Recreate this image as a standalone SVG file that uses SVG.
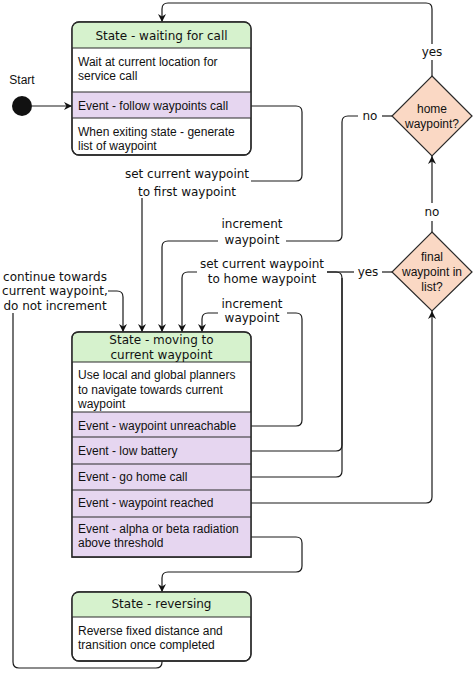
<svg xmlns="http://www.w3.org/2000/svg" width="474" height="673" viewBox="0 0 474 673">
<defs>
<marker id="arr" viewBox="0 0 10 10" refX="10" refY="5" markerWidth="8" markerHeight="8" markerUnits="userSpaceOnUse" orient="auto">
<path d="M0,0 L10,5 L0,10 L3,5 z" fill="#111"/>
</marker>
<style>
.box{fill:#fff;stroke:#2a2a2a;stroke-width:1.3}
.hdr{fill:#d6f2cd}
.evt{fill:#e6d6f0}
.div{stroke:#2a2a2a;stroke-width:1.2;fill:none}
.dia{fill:#fad8c4;stroke:#2a2a2a;stroke-width:1.2}
.c{fill:none;stroke:#1a1a1a;stroke-width:1.2}
.ca{fill:none;stroke:#1a1a1a;stroke-width:1.2;marker-end:url(#arr)}
.h{font-family:"DejaVu Sans",sans-serif;font-size:12px;fill:#111;text-anchor:middle}
.t{font-family:"Liberation Sans",Arial,sans-serif;font-size:12px;fill:#111}
.tm{font-family:"Liberation Sans",Arial,sans-serif;font-size:12px;fill:#111;text-anchor:middle}
.l{font-family:"DejaVu Sans",sans-serif;font-size:12px;fill:#111;text-anchor:middle}
</style>
</defs>
<g id="connectors">
<path class="ca" d="M32,106 H72"/>
<path class="c" d="M251,106 H296 Q302,106 302,112 V175 Q302,181 296,181 H251"/>
<path class="ca" d="M142,198 V332"/>
<path class="c" d="M432,76 V60"/>
<path class="ca" d="M432,44 V9 Q432,3 426,3 H168 Q162,3 162,9 V22"/>
<path class="c" d="M392,116 H382"/>
<path class="c" d="M358,116 H348 Q342,116 342,122 V235 Q342,241 336,241 H286"/>
<path class="ca" d="M218,241 H168 Q162,241 162,247 V332"/>
<path class="c" d="M392,272 H382"/>
<path class="c" d="M354,272 H327"/>
<path class="c" d="M251,451 H336 Q342,451 342,445 V278 Q342,272 336,272 H327"/>
<path class="c" d="M251,477 H336 Q342,477 342,471 V278"/>
<path class="ca" d="M197,272 H188 Q182,272 182,278 V332"/>
<path class="c" d="M251,426 H296 Q302,426 302,420 V319 Q302,313 296,313 H287"/>
<path class="ca" d="M218,313 H208 Q202,313 202,319 V332"/>
<path class="ca" d="M251,503 H426 Q432,503 432,497 V311"/>
<path class="c" d="M432,232 V221"/>
<path class="ca" d="M432,203 V156"/>
<path class="ca" d="M251,537 H296 Q302,537 302,543 V566 Q302,572 296,572 H168 Q162,572 162,578 V592"/>
<path class="c" d="M162,661 V662 Q162,668 156,668 H19 Q13,668 13,662 V313"/>
<path class="ca" d="M108,291 H117 Q123,291 123,297 V332"/>
<text class="l" x="187" y="178">set current waypoint</text>
<text class="l" x="187" y="196">to first waypoint</text>
<text class="l" x="252" y="228">increment</text>
<text class="l" x="252" y="244">waypoint</text>
<text class="l" x="262" y="268">set current waypoint</text>
<text class="l" x="262" y="283">to home waypoint</text>
<text class="l" x="252" y="308">increment</text>
<text class="l" x="252" y="322">waypoint</text>
<text class="l" x="55" y="281">continue towards</text>
<text class="l" x="55" y="295">current waypoint,</text>
<text class="l" x="55" y="310">do not increment</text>
<text class="l" x="432" y="56">yes</text>
<text class="l" x="370" y="120">no</text>
<text class="l" x="368" y="276">yes</text>
<text class="l" x="432" y="216">no</text>
</g>
<g id="start">
<circle cx="22" cy="106" r="10" fill="#111"/>
<text class="tm" x="22" y="84">Start</text>
</g>
<g id="state-waiting">
<rect class="box" x="72" y="22" width="179" height="133" rx="7"/>
<path class="hdr" d="M72.6,48 V29 Q72.6,22.6 79,22.6 H244 Q250.4,22.6 250.4,29 V48 Z"/>
<rect class="evt" x="72.6" y="92" width="177.8" height="26"/>
<path class="div" d="M72,48 H251 M72,92 H251 M72,118 H251"/>
<rect x="72" y="22" width="179" height="133" rx="7" fill="none" stroke="#2a2a2a" stroke-width="1.3"/>
<text class="h" x="161.5" y="39.5">State - waiting for call</text>
<text class="t" x="78" y="66">Wait at current location for</text>
<text class="t" x="78" y="80">service call</text>
<text class="t" x="78" y="110">Event - follow waypoints call</text>
<text class="t" x="78" y="136">When exiting state - generate</text>
<text class="t" x="78" y="150">list of waypoint</text>
</g>
<g id="state-moving">
<path class="box" d="M72,557 V339 Q72,332 79,332 H244 Q251,332 251,339 V557 Z"/>
<path class="hdr" d="M72.6,362 V339 Q72.6,332.6 79,332.6 H244 Q250.4,332.6 250.4,339 V362 Z"/>
<rect class="evt" x="72.6" y="412" width="177.8" height="144.4"/>
<path class="div" d="M72,362 H251 M72,412 H251 M72,437 H251 M72,464 H251 M72,490 H251 M72,517 H251"/>
<path d="M72,557 V339 Q72,332 79,332 H244 Q251,332 251,339 V557 Z" fill="none" stroke="#2a2a2a" stroke-width="1.3"/>
<text class="h" x="161.5" y="343.5">State - moving to</text>
<text class="h" x="161.5" y="358.5">current waypoint</text>
<text class="t" x="78" y="379">Use local and global planners</text>
<text class="t" x="78" y="394">to navigate towards current</text>
<text class="t" x="78" y="408">waypoint</text>
<text class="t" x="78" y="430">Event - waypoint unreachable</text>
<text class="t" x="78" y="455">Event - low battery</text>
<text class="t" x="78" y="481">Event - go home call</text>
<text class="t" x="78" y="507">Event - waypoint reached</text>
<text class="t" x="78" y="533">Event - alpha or beta radiation</text>
<text class="t" x="78" y="547">above threshold</text>
</g>
<g id="state-reversing">
<rect class="box" x="72" y="592" width="179" height="69" rx="7"/>
<path class="hdr" d="M72.6,617 V599 Q72.6,592.6 79,592.6 H244 Q250.4,592.6 250.4,599 V617 Z"/>
<path class="div" d="M72,617 H251"/>
<rect x="72" y="592" width="179" height="69" rx="7" fill="none" stroke="#2a2a2a" stroke-width="1.3"/>
<text class="h" x="161.5" y="607.5">State - reversing</text>
<text class="t" x="78" y="635">Reverse fixed distance and</text>
<text class="t" x="78" y="649">transition once completed</text>
</g>
<g id="home-waypoint">
<path class="dia" d="M432,76 L472,116 L432,156 L392,116 Z"/>
<text class="tm" x="432" y="113">home</text>
<text class="tm" x="432" y="128">waypoint?</text>
</g>
<g id="final-waypoint">
<path class="dia" d="M432,232 L472,272 L432,311 L392,272 Z"/>
<text class="tm" x="432" y="261">final</text>
<text class="tm" x="432" y="276">waypoint in</text>
<text class="tm" x="432" y="291">list?</text>
</g>
</svg>
